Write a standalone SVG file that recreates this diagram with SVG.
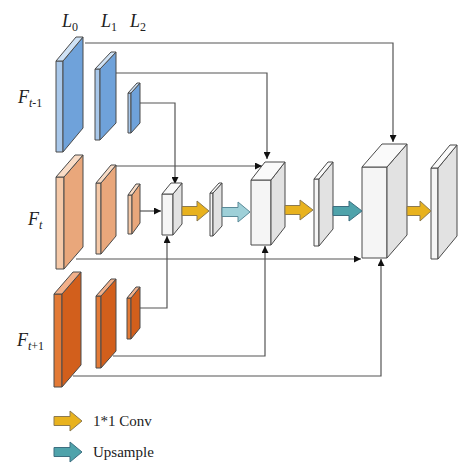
<svg xmlns="http://www.w3.org/2000/svg" width="474" height="474" viewBox="0 0 474 474">
<defs>
<style>
.s{stroke:#4a4a4a;stroke-width:1;stroke-linejoin:round}
.bF{fill:#a9c8ea}.bS{fill:#6fa2da}.bT{fill:#cfe2f5}
.oF{fill:#f5c9a8}.oS{fill:#e9a77b}.oT{fill:#f9dcc6}
.rF{fill:#e37a36}.rS{fill:#d25f1c}.rT{fill:#f2b08a}
.gF{fill:#f5f5f5}.gS{fill:#e2e2e2}.gT{fill:#fafafa}
.ln{fill:none;stroke:#555;stroke-width:1.2}
.ya{fill:#e8b21e;stroke:#8c7a50;stroke-width:1}
.ta{fill:#9ed0d8;stroke:#5a8a98;stroke-width:1}
.td{fill:#4fa3ab;stroke:#3d6f80;stroke-width:1}
.lab{font-family:"Liberation Serif",serif;font-style:italic;font-size:18px;fill:#222}
.sub{font-size:12px}
.leg{font-family:"Liberation Serif",serif;font-size:15px;fill:#222}
</style>
<marker id="ah" viewBox="0 0 10 10" refX="10" refY="5" markerWidth="7" markerHeight="7" markerUnits="userSpaceOnUse" orient="auto"><path d="M0,0L10,5L0,10z" fill="#111"/></marker>
</defs>

<g id="connectors">
<path class="ln" d="M85,43H393V142" marker-end="url(#ah)"/>
<path class="ln" d="M116,73H267V159" marker-end="url(#ah)"/>
<path class="ln" d="M140,103H175V184" marker-end="url(#ah)"/>
<path class="ln" d="M116,166H262" marker-end="url(#ah)"/>
<path class="ln" d="M140,211H161" marker-end="url(#ah)"/>
<path class="ln" d="M76,259H361" marker-end="url(#ah)"/>
<path class="ln" d="M140,308H167V236" marker-end="url(#ah)"/>
<path class="ln" d="M113,356H265V246" marker-end="url(#ah)"/>
<path class="ln" d="M73,376H381V259" marker-end="url(#ah)"/>
</g>

<g id="labels">
<text class="lab" x="62" y="27">L<tspan class="sub" dy="4" font-style="normal">0</tspan></text>
<text class="lab" x="101" y="27">L<tspan class="sub" dy="4" font-style="normal">1</tspan></text>
<text class="lab" x="130" y="27">L<tspan class="sub" dy="4" font-style="normal">2</tspan></text>
<text class="lab" x="18" y="103">F<tspan class="sub" dy="4">t</tspan><tspan class="sub" font-style="normal">-1</tspan></text>
<text class="lab" x="28" y="225">F<tspan class="sub" dy="4">t</tspan></text>
<text class="lab" x="17" y="346">F<tspan class="sub" dy="4">t</tspan><tspan class="sub" font-style="normal">+1</tspan></text>
</g>

<g id="ftm1-l0" class="s"><rect class="bF s" x="56" y="61" width="7" height="91"/><polygon class="bS s" points="63,61 83,37 83,128 63,152"/><polygon class="bT s" points="56,61 76,37 83,37 63,61"/></g>
<g id="ftm1-l1" class="s"><rect class="bF s" x="95" y="69" width="5" height="71"/><polygon class="bS s" points="100,69 116,52 116,123 100,140"/><polygon class="bT s" points="95,69 111,52 116,52 100,69"/></g>
<g id="ftm1-l2" class="s"><rect class="bF s" x="128" y="93" width="3" height="40"/><polygon class="bS s" points="131,93 140,83 140,123 131,133"/><polygon class="bT s" points="128,93 137,83 140,83 131,93"/></g>

<g id="ft-l0"><rect class="oF s" x="56" y="177" width="8" height="92"/><polygon class="oS s" points="64,177 83,155 83,247 64,269"/><polygon class="oT s" points="56,177 75,155 83,155 64,177"/></g>
<g id="ft-l1"><rect class="oF s" x="96" y="183" width="5" height="71"/><polygon class="oS s" points="101,183 116,165 116,236 101,254"/><polygon class="oT s" points="96,183 111,165 116,165 101,183"/></g>
<g id="ft-l2"><rect class="oF s" x="128" y="195" width="4" height="39"/><polygon class="oS s" points="132,195 140,184 140,223 132,234"/><polygon class="oT s" points="128,195 136,184 140,184 132,195"/></g>

<g id="ftp1-l0"><rect class="rF s" x="54" y="294" width="8" height="93"/><polygon class="rS s" points="62,294 81,272 81,365 62,387"/><polygon class="rT s" points="54,294 73,272 81,272 62,294"/></g>
<g id="ftp1-l1"><rect class="rF s" x="96" y="296" width="5" height="72"/><polygon class="rS s" points="101,296 116,279 116,351 101,368"/><polygon class="rT s" points="96,296 111,279 116,279 101,296"/></g>
<g id="ftp1-l2"><rect class="rF s" x="127" y="298" width="4" height="41"/><polygon class="rS s" points="131,298 140,287 140,328 131,339"/><polygon class="rT s" points="127,298 136,287 140,287 131,298"/></g>

<g id="fuse1"><rect class="gF s" x="162" y="194" width="11" height="41"/><polygon class="gS s" points="173,194 182,183 182,224 173,235"/><polygon class="gT s" points="162,194 171,183 182,183 173,194"/></g>
<g id="slab1"><rect class="gF s" x="210" y="193" width="3" height="43"/><polygon class="gS s" points="213,193 222,183 222,226 213,236"/><polygon class="gT s" points="210,193 219,183 222,183 213,193"/></g>
<g id="fuse2"><rect class="gF s" x="251" y="180" width="20" height="65"/><polygon class="gS s" points="271,180 285,162 285,227 271,245"/><polygon class="gT s" points="251,180 265,162 285,162 271,180"/></g>
<g id="slab2"><rect class="gF s" x="314" y="179" width="5" height="67"/><polygon class="gS s" points="319,179 333,162 333,229 319,246"/><polygon class="gT s" points="314,179 328,162 333,162 319,179"/></g>
<g id="fuse3"><rect class="gF s" x="362" y="167" width="25" height="91"/><polygon class="gS s" points="387,167 407,144 407,235 387,258"/><polygon class="gT s" points="362,167 382,144 407,144 387,167"/></g>
<g id="out"><rect class="gF s" x="431" y="168" width="7" height="91"/><polygon class="gS s" points="438,168 457,145 457,236 438,259"/><polygon class="gT s" points="431,168 450,145 457,145 438,168"/></g>

<g id="ops">
<polygon class="ya" points="182,206.5 197,206.5 197,201 209,211 197,221 197,215.5 182,215.5"/>
<polygon class="ta" points="222,207.5 238,207.5 238,202 250,212 238,222 238,216.5 222,216.5"/>
<polygon class="ya" points="285,205.5 300,205.5 300,200 313,210 300,220 300,214.5 285,214.5"/>
<polygon class="td" points="333,206.5 349,206.5 349,201 362,211 349,221 349,215.5 333,215.5"/>
<polygon class="ya" points="407,206.5 420,206.5 420,201 431,211 420,221 420,215.5 407,215.5"/>
</g>

<g id="legend">
<polygon class="ya" points="54,416.5 70,416.5 70,411 82,421 70,431 70,425.5 54,425.5"/>
<text class="leg" x="93" y="426">1*1 Conv</text>
<polygon class="td" points="54,447.5 70,447.5 70,442 82,452 70,462 70,456.5 54,456.5"/>
<text class="leg" x="93" y="457">Upsample</text>
</g>
</svg>
